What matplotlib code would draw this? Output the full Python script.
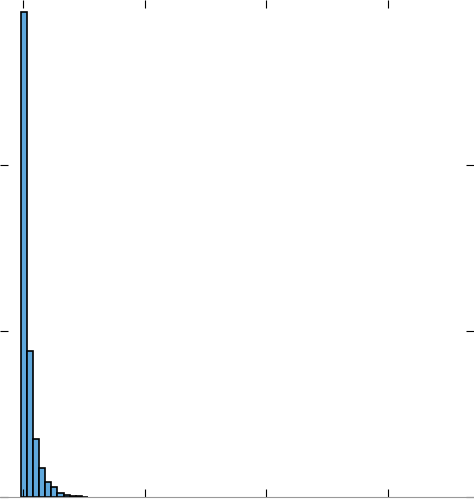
import matplotlib
matplotlib.use("Agg")
import matplotlib.pyplot as plt

bin_left = [-0.02 + 0.05 * i for i in range(11)]
heights = [2.916, 0.88, 0.35, 0.175, 0.09, 0.06, 0.024, 0.014, 0.008, 0.004, 0.002]

fig = plt.figure(figsize=(4.74, 5.0), dpi=100)
ax = fig.add_axes([0, 0.006, 1, 0.994])
ax.bar(bin_left, heights, width=0.05, align="edge", color="#5fa8dc", edgecolor="black", linewidth=1.2)
ax.set_xlim(-0.193, 3.71)
ax.set_ylim(0, 2.99)
ax.set_xticks([0, 1, 2, 3])
ax.set_yticks([0, 1, 2])
ax.tick_params(direction="in", top=True, right=True, labelbottom=False, labelleft=False, length=6)
for k, s in ax.spines.items():
    if k == "bottom":
        s.set_color("#999999")
        s.set_linestyle((0, (2, 1)))
    else:
        s.set_visible(False)
fig.savefig("out.png", dpi=100)
